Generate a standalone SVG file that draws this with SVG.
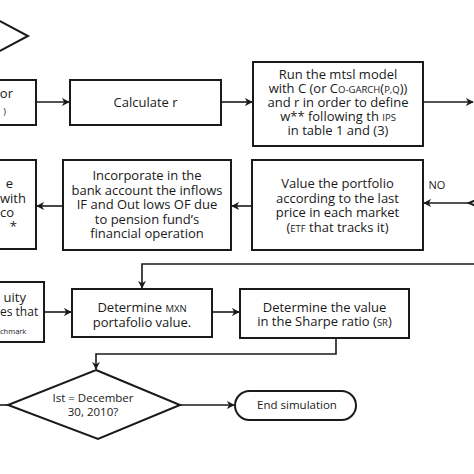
<svg xmlns="http://www.w3.org/2000/svg" width="474" height="474" viewBox="0 0 474 474">
<style>
.box{fill:#fff;stroke:#1a1a1a;stroke-width:2}
.ln{fill:none;stroke:#1a1a1a;stroke-width:1.6}
.t{font-family:"Open Sans","DejaVu Sans",sans-serif;font-size:13px;fill:#1a1a1a;text-anchor:middle}
.e{text-anchor:end}
.st{text-anchor:start}
.sc{font-size:9.5px}
.s{font-size:11.5px}
</style>
<defs>
<marker id="ah" viewBox="0 0 10 10" refX="9" refY="5" markerWidth="8" markerHeight="8" markerUnits="userSpaceOnUse" orient="auto">
<path d="M0,0 L10,5 L0,10 L3,5 z" fill="#1a1a1a"/>
</marker>
</defs>
<rect width="474" height="474" fill="#fff"/>
<g id="connectors">
<line class="ln" x1="36" y1="102" x2="69" y2="102" marker-end="url(#ah)"/>
<line class="ln" x1="221" y1="102" x2="252" y2="102" marker-end="url(#ah)"/>
<line class="ln" x1="423" y1="102" x2="473" y2="102" marker-end="url(#ah)"/>
<line class="ln" x1="469" y1="203" x2="424" y2="203" marker-end="url(#ah)"/>
<line class="ln" x1="252" y1="206" x2="232" y2="206" marker-end="url(#ah)"/>
<line class="ln" x1="63" y1="206" x2="37" y2="206" marker-end="url(#ah)"/>
<polyline class="ln" points="474,264 142,264 142,288" marker-end="url(#ah)"/>
<line class="ln" x1="44" y1="312" x2="71" y2="312" marker-end="url(#ah)"/>
<line class="ln" x1="212" y1="312" x2="239" y2="312" marker-end="url(#ah)"/>
<polyline class="ln" points="336,338 336,354 96,354 96,369" marker-end="url(#ah)"/>
<line class="ln" x1="180" y1="405" x2="234" y2="405" marker-end="url(#ah)"/>
<line class="ln" x1="8" y1="405" x2="0" y2="405"/>
</g>
<g id="top-decision">
<polyline class="box" points="-30,5 28,36 -30,67"/>
</g>
<g id="right-decision">
<polygon class="box" points="469,203 529,178 589,203 529,228"/>
</g>
<g id="box-a">
<rect class="box" x="-60" y="80" width="96" height="45"/>
<text class="t e" x="13" y="98">or</text>
<text class="t e" x="6" y="115" style="font-size:9px">)</text>
</g>
<g id="calc-r">
<rect class="box" x="70" y="80" width="151" height="45"/>
<text class="t" x="145.5" y="107">Calculate r</text>
</g>
<g id="run-mtsl">
<rect class="box" x="253" y="62" width="170" height="84"/>
<text class="t" x="338" y="79">Run the mtsl model</text>
<text class="t" x="338" y="93">with C (or C<tspan class="sc">O-GARCH</tspan>(<tspan class="sc">P,Q</tspan>))</text>
<text class="t" x="338" y="107">and r in order to define</text>
<text class="t" x="338" y="121">w** following th <tspan class="sc">IPS</tspan></text>
<text class="t" x="338" y="135">in table 1 and (3)</text>
</g>
<g id="box-d">
<rect class="box" x="-80" y="160" width="116" height="89"/>
<text class="t e" x="13" y="188">e</text>
<text class="t st" x="0" y="202.5">with</text>
<text class="t e" x="14" y="217">co</text>
<text class="t e" x="17" y="231">*</text>
</g>
<g id="incorporate">
<rect class="box" x="63" y="160" width="168" height="90"/>
<text class="t" x="147" y="180">Incorporate in the</text>
<text class="t" x="147" y="194.5">bank account the inflows</text>
<text class="t" x="147" y="209">IF and Out lows OF due</text>
<text class="t" x="147" y="223.5">to pension fund’s</text>
<text class="t" x="147" y="238">financial operation</text>
</g>
<g id="value-portfolio">
<rect class="box" x="252" y="160" width="171" height="90"/>
<text class="t" x="337.5" y="188">Value the portfolio</text>
<text class="t" x="337.5" y="202.5">according to the last</text>
<text class="t" x="337.5" y="217">price in each market</text>
<text class="t" x="337.5" y="231.5">(<tspan class="sc">ETF</tspan> that tracks it)</text>
<text class="t" x="437" y="189" style="font-size:11px">NO</text>
</g>
<g id="box-h">
<rect class="box" x="-80" y="282" width="124" height="60"/>
<text class="t e" x="26" y="302">uity</text>
<text class="t st" x="0" y="316" style="font-size:12px">es that</text>
<text class="t st" x="0" y="334" style="font-size:7.5px">chmark</text>
</g>
<g id="determine-mxn">
<rect class="box" x="72" y="289" width="140" height="48"/>
<text class="t" x="142" y="312">Determine <tspan class="sc">MXN</tspan></text>
<text class="t" x="142" y="327">portafolio value.</text>
</g>
<g id="sharpe">
<rect class="box" x="240" y="289" width="169" height="49"/>
<text class="t" x="324.5" y="312">Determine the value</text>
<text class="t" x="324.5" y="326">in the Sharpe ratio (<tspan class="sc">SR</tspan>)</text>
</g>
<g id="decision-date">
<polygon class="box" points="96,370 180,405 98,439 8,405"/>
<text class="t s" x="93" y="402">Ist = December</text>
<text class="t s" x="93" y="416">30, 2010?</text>
</g>
<g id="end-sim">
<rect class="box" x="235" y="391" width="121" height="29" rx="14.5"/>
<text class="t s" x="297" y="409">End simulation</text>
</g>
</svg>
